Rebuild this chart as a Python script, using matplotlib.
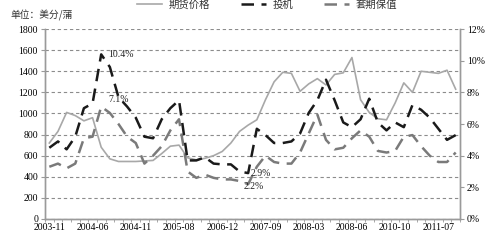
import matplotlib
matplotlib.use("Agg")
import matplotlib.pyplot as plt
import numpy as np

plt.rcParams['font.family'] = ['Liberation Serif', 'Noto Sans CJK SC', 'DejaVu Sans']

# ---- data ----
tick_labels = ["2003-11", "2004-06", "2004-11", "2005-08", "2006-12",
               "2007-09", "2008-03", "2008-06", "2010-10", "2011-07"]
label_step = 5

futures_price = [720, 830, 1010, 980, 930, 960, 680, 570, 545, 545,
                 545, 550, 555, 620, 690, 700, 580, 560, 575, 600,
                 640, 720, 830, 890, 940, 1130, 1300, 1390, 1380, 1210,
                 1280, 1330, 1270, 1370, 1385, 1530, 1130, 1010, 950, 940,
                 1100, 1290, 1200, 1400, 1390, 1380, 1410, 1230]

speculation = [4.5, 4.9, 4.4, 5.2, 7.0, 7.3, 10.4, 9.6, 7.7, 7.1,
               6.4, 5.2, 5.1, 6.3, 7.0, 7.5, 3.7, 3.7, 3.9, 3.5,
               3.45, 3.45, 3.0, 2.9, 5.7, 5.3, 4.8, 4.8, 4.9, 5.4,
               6.7, 7.5, 8.8, 7.5, 6.1, 5.8, 6.3, 7.6, 6.1, 5.6,
               6.1, 5.8, 7.2, 6.9, 6.4, 5.7, 5.0, 5.3]

hedging = [3.3, 3.5, 3.2, 3.5, 5.1, 5.2, 7.1, 6.7, 6.0, 5.2,
           4.8, 3.5, 4.0, 4.6, 5.6, 6.3, 3.0, 2.6, 2.8, 2.6,
           2.5, 2.5, 2.4, 2.2, 3.3, 4.0, 3.6, 3.5, 3.5, 4.2,
           5.4, 6.6, 5.0, 4.4, 4.5, 5.1, 5.6, 5.2, 4.3, 4.2,
           4.3, 5.2, 5.3, 4.6, 4.0, 3.6, 3.6, 4.2]

series_names = ["期货价格", "投机", "套期保值"]
unit_text = "单位：美分/蒲"

annotations = [  # (series, index, text)
    ("speculation", 6, "10.4%"),
    ("hedging", 6, "7.1%"),
    ("speculation", 23, "2.9%"),
    ("hedging", 23, "2.2%"),
]

# ---- figure ----
fig = plt.figure(figsize=(5.0, 2.4), dpi=100)
ax = fig.add_axes([0.09, 0.0875, 0.83, 0.7915])
ax2 = ax.twinx()

n = len(futures_price)
x = np.arange(n)

c_price = "#a8a8a8"
c_spec = "#1a1a1a"
c_hedge = "#7a7a7a"
c_axis = "#9a9a9a"

l1, = ax.plot(x, futures_price, color=c_price, lw=1.2, zorder=3)
l2, = ax2.plot(x, speculation, color=c_spec, lw=1.8, dashes=(5, 3), zorder=4)
l3, = ax2.plot(x, hedging, color=c_hedge, lw=1.8, dashes=(5, 3), zorder=3)

ax.set_xlim(-0.5, n - 0.5)
ax.set_ylim(0, 1800)
ax2.set_ylim(0, 12)

ax.set_yticks(np.arange(0, 1801, 200))
ax2.set_yticks(np.arange(0, 12.1, 2))
ax2.set_yticklabels([f"{int(v)}%" for v in np.arange(0, 12.1, 2)])

major = np.arange(0, n, label_step)[:len(tick_labels)]
ax.set_xticks(major)
ax.set_xticklabels(tick_labels)
ax.set_xticks(np.arange(-0.5, n, 1), minor=True)
ax.tick_params(axis='x', which='major', length=0, labelsize=7, pad=3)
ax.tick_params(axis='x', which='minor', length=2.5, color=c_axis, direction='out')
ax.tick_params(axis='y', length=3, color=c_axis, labelsize=7, pad=2)
ax2.tick_params(axis='y', length=3, color=c_axis, labelsize=7, pad=2)

ax.yaxis.grid(True, linestyle=(0, (3, 2.5)), color="#8c8c8c", lw=0.8)
ax.set_axisbelow(True)

for a in (ax, ax2):
    a.spines['top'].set_visible(False)
    for s in ('left', 'right', 'bottom'):
        a.spines[s].set_color(c_axis)
        a.spines[s].set_linewidth(1.0)

lookup = {"speculation": speculation, "hedging": hedging}
offsets = {("speculation", 6): (5, 0), ("hedging", 6): (5, 5),
           ("speculation", 23): (2, 0), ("hedging", 23): (-3, -2)}
for name, idx, txt in annotations:
    ox, oy = offsets[(name, idx)]
    ax2.annotate(txt, xy=(idx, lookup[name][idx]), xytext=(ox, oy),
                 textcoords='offset points', fontsize=7, ha='left', va='center',
                 color="#222222", zorder=6)

leg = ax.legend([l1, l2, l3], series_names, loc='center',
                bbox_to_anchor=(0.535, 1.13), ncol=3, frameon=False,
                fontsize=7.5, handlelength=2.4, columnspacing=3.0,
                handletextpad=0.6, prop={'family': ['Noto Sans CJK SC'], 'size': 7.5})
for t in leg.get_texts():
    t.set_color("#333333")

fig.text(0.02, 0.935, unit_text, fontsize=7, family=['Noto Sans CJK SC'],
         color="#333333", va='center', ha='left')

fig.savefig("out.png", dpi=100)
